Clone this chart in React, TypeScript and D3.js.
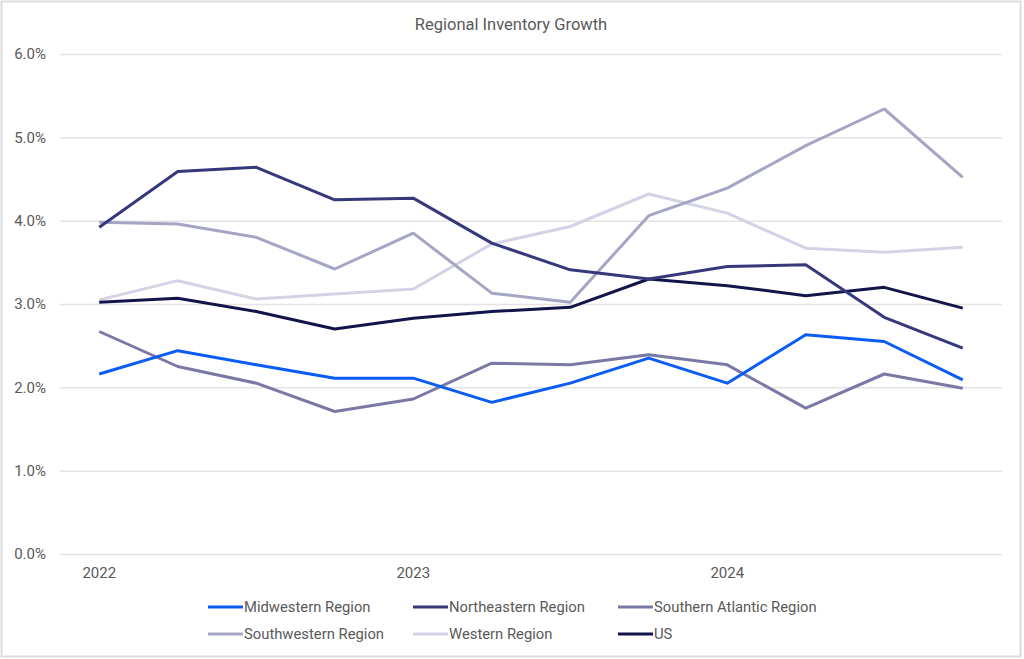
import React, { useEffect, useRef } from 'react';
import * as d3 from 'd3';

// Quarterly periods, 2022 Q1 .. 2024 Q4
const periods = [
  '2022Q1', '2022Q2', '2022Q3', '2022Q4',
  '2023Q1', '2023Q2', '2023Q3', '2023Q4',
  '2024Q1', '2024Q2', '2024Q3', '2024Q4',
];
const yearLabels: Record<string, string> = { '2022Q1': '2022', '2023Q1': '2023', '2024Q1': '2024' };
const yTicks = [0, 1, 2, 3, 4, 5, 6];

const midwestern = [2.16, 2.44, 2.27, 2.11, 2.11, 1.82, 2.05, 2.35, 2.05, 2.63, 2.55, 2.09];
const northeastern = [3.92, 4.59, 4.64, 4.25, 4.27, 3.73, 3.41, 3.30, 3.45, 3.47, 2.84, 2.47];
const southernAtlantic = [2.67, 2.25, 2.05, 1.71, 1.86, 2.29, 2.27, 2.39, 2.27, 1.75, 2.16, 1.99];
const southwestern = [3.98, 3.96, 3.80, 3.42, 3.85, 3.13, 3.02, 4.06, 4.39, 4.90, 5.34, 4.52];
const western = [3.05, 3.28, 3.06, 3.12, 3.18, 3.72, 3.93, 4.32, 4.09, 3.67, 3.62, 3.68];
const us = [3.02, 3.07, 2.91, 2.70, 2.83, 2.91, 2.96, 3.30, 3.22, 3.10, 3.20, 2.95];

const series = [
  { name: 'Midwestern Region', values: midwestern, color: '#0a5cf5' },
  { name: 'Northeastern Region', values: northeastern, color: '#35397c' },
  { name: 'Southern Atlantic Region', values: southernAtlantic, color: '#7a78a5' },
  { name: 'Southwestern Region', values: southwestern, color: '#a5a5c5' },
  { name: 'Western Region', values: western, color: '#d3d3e6' },
  { name: 'US', values: us, color: '#12154a' },
];
// draw order (bottom to top)
const drawOrder = ['Western Region', 'Southwestern Region', 'Southern Atlantic Region', 'US', 'Northeastern Region', 'Midwestern Region'];

const FONT = 'Roboto, "Liberation Sans", sans-serif';
const TEXT = '#595959';

export default function App() {
  const svgRef = useRef<SVGSVGElement>(null);
  const width = 1024;
  const height = 659;

  useEffect(() => {
    if (!svgRef.current) return;
    const svg = d3.select(svgRef.current);
    svg.selectAll('*').remove();

    const margin = { top: 54, right: 22, bottom: 105, left: 60 };
    const innerWidth = width - margin.left - margin.right;
    const innerHeight = height - margin.top - margin.bottom;

    svg.append('rect')
      .attr('x', 1.5).attr('y', 1.5)
      .attr('width', width - 5).attr('height', height - 4)
      .attr('fill', '#fff').attr('stroke', '#dcdcdc').attr('stroke-width', 2);

    svg.append('text')
      .attr('x', 511).attr('y', 30)
      .attr('text-anchor', 'middle')
      .attr('font-family', FONT).attr('font-size', 16.5)
      .attr('fill', TEXT)
      .text('Regional Inventory Growth');

    const g = svg.append('g').attr('transform', `translate(${margin.left},${margin.top})`);

    const x = d3.scaleBand<string>().domain(periods).range([0, innerWidth]);
    const xc = (p: string) => (x(p) ?? 0) + x.bandwidth() / 2;
    const y = d3.scaleLinear().domain([0, 6]).range([innerHeight, 0]);

    // Grid
    g.append('g')
      .call(d3.axisLeft(y).tickValues(yTicks).tickSize(-innerWidth).tickFormat(() => ''))
      .call(s => s.select('.domain').remove())
      .call(s => s.selectAll('line').attr('stroke', '#e3e3e3').attr('stroke-width', 1.5));

    // Y labels
    g.append('g')
      .call(d3.axisLeft(y).tickValues(yTicks).tickSize(0).tickPadding(14).tickFormat(d => `${(+d).toFixed(1)}%`))
      .call(s => s.select('.domain').remove())
      .call(s => s.selectAll('text').attr('font-family', FONT).attr('font-size', 15).attr('fill', TEXT));

    // X labels
    g.append('g')
      .attr('transform', `translate(0,${innerHeight})`)
      .call(d3.axisBottom(x).tickValues(Object.keys(yearLabels)).tickSize(0).tickPadding(13).tickFormat(d => yearLabels[d]))
      .call(s => s.select('.domain').remove())
      .call(s => s.selectAll('text').attr('font-family', FONT).attr('font-size', 15).attr('fill', TEXT));

    const line = d3.line<number>()
      .x((_, i) => xc(periods[i]))
      .y(d => y(d));

    drawOrder.forEach(n => {
      const s = series.find(d => d.name === n)!;
      g.append('path')
        .datum(s.values)
        .attr('fill', 'none')
        .attr('stroke', s.color)
        .attr('stroke-width', 3)
        .attr('stroke-linejoin', 'round')
        .attr('d', line);
    });

    // Legend
    const legend = svg.append('g');
    series.forEach((s, i) => {
      const lx = 208 + (i % 3) * 205;
      const ly = 607 + Math.floor(i / 3) * 27;
      legend.append('line')
        .attr('x1', lx).attr('x2', lx + 35)
        .attr('y1', ly).attr('y2', ly)
        .attr('stroke', s.color).attr('stroke-width', 3);
      legend.append('text')
        .attr('x', lx + 36).attr('y', ly + 5)
        .attr('font-family', FONT).attr('font-size', 14.8)
        .attr('fill', TEXT)
        .text(s.name);
    });
  }, []);

  return (
    <svg
      ref={svgRef}
      width={width}
      height={height}
      style={{ position: 'absolute', left: 0, top: 0, background: '#fff' }}
    />
  );
}
